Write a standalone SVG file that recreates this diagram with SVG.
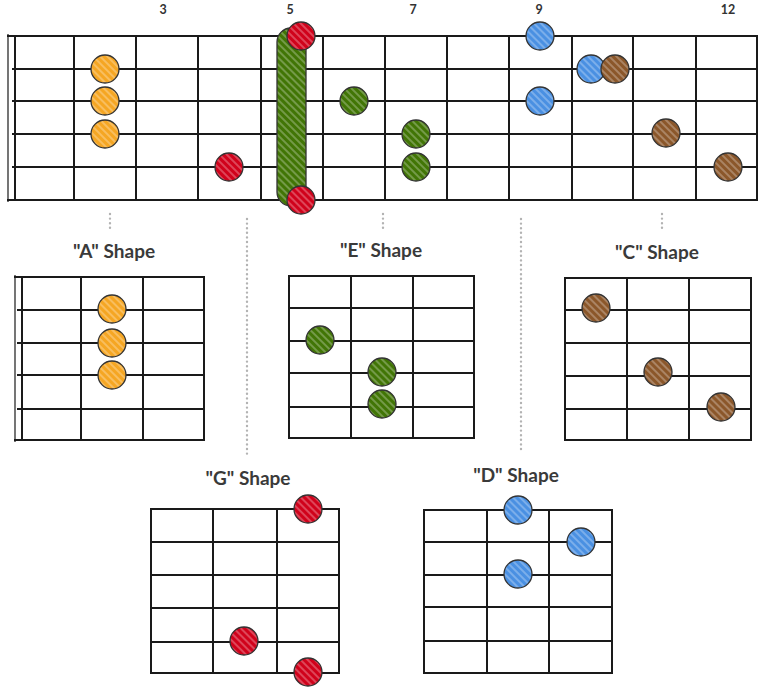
<svg xmlns="http://www.w3.org/2000/svg" width="768" height="695" viewBox="0 0 768 695">
<defs>
<pattern id="h-or" width="5" height="5" patternUnits="userSpaceOnUse" patternTransform="rotate(-45)"><rect width="5" height="5" fill="#F5A623"/><line x1="1" y1="0" x2="1" y2="5" stroke="#fff" stroke-width="0.9" opacity="0.6"/></pattern>
<pattern id="h-rd" width="5" height="5" patternUnits="userSpaceOnUse" patternTransform="rotate(-45)"><rect width="5" height="5" fill="#D0021B"/><line x1="1" y1="0" x2="1" y2="5" stroke="#fff" stroke-width="0.9" opacity="0.6"/></pattern>
<pattern id="h-gr" width="5" height="5" patternUnits="userSpaceOnUse" patternTransform="rotate(-45)"><rect width="5" height="5" fill="#417505"/><line x1="1" y1="0" x2="1" y2="5" stroke="#fff" stroke-width="0.9" opacity="0.6"/></pattern>
<pattern id="h-bl" width="5" height="5" patternUnits="userSpaceOnUse" patternTransform="rotate(-45)"><rect width="5" height="5" fill="#4A90E2"/><line x1="1" y1="0" x2="1" y2="5" stroke="#fff" stroke-width="0.9" opacity="0.6"/></pattern>
<pattern id="h-br" width="5" height="5" patternUnits="userSpaceOnUse" patternTransform="rotate(-45)"><rect width="5" height="5" fill="#8B572A"/><line x1="1" y1="0" x2="1" y2="5" stroke="#fff" stroke-width="0.9" opacity="0.6"/></pattern>
<style>
.grid{fill:none;stroke:#1a1a1a;stroke-width:2;stroke-linecap:square}
.thin{fill:none;stroke:#1a1a1a;stroke-width:1.2}
.dot{stroke:#333;stroke-width:1.3}
.or{fill:url(#h-or)}.rd{fill:url(#h-rd)}.gr{fill:url(#h-gr)}.bl{fill:url(#h-bl)}.br{fill:url(#h-br)}
.fn{font-family:Lato,"Liberation Sans",sans-serif;font-weight:700;font-size:12.5px;fill:#333;text-anchor:middle}
.ttl{font-family:Lato,"Liberation Sans",sans-serif;font-weight:700;font-size:19px;fill:#3a3a3a;text-anchor:middle}
.conn{fill:none;stroke:#b3b3b3;stroke-width:2.4;stroke-linecap:round;stroke-dasharray:0 4.6}
</style>
</defs>
<rect width="768" height="695" fill="#fff"/>

<g id="connectors">
<line class="conn" x1="110" y1="214" x2="110" y2="229"/>
<line class="conn" x1="383" y1="214" x2="383" y2="229"/>
<line class="conn" x1="662" y1="214" x2="662" y2="229"/>
<line class="conn" x1="247" y1="219" x2="247" y2="458"/>
<line class="conn" x1="521" y1="219" x2="521" y2="453"/>
</g>

<g id="fretboard">
<text class="fn" x="163" y="14">3</text>
<text class="fn" x="290" y="14">5</text>
<text class="fn" x="413" y="14">7</text>
<text class="fn" x="539" y="14">9</text>
<text class="fn" x="728" y="14">12</text>
<path class="thin" d="M8 34V202"/>
<path class="grid" d="M15 36V200M74 36V200M136 36V200M198 36V200M261 36V200M323 36V200M385 36V200M447 36V200M509 36V200M572 36V200M633 36V200M696 36V200M757 36V200M8 36H757M13 69H757M13 101H757M13 134H757M13 167H757M8 200H757"/>
<circle class="dot or" cx="105" cy="69" r="14"/>
<circle class="dot or" cx="105" cy="101" r="14"/>
<circle class="dot or" cx="105" cy="134" r="14"/>
<circle class="dot rd" cx="229" cy="167" r="14"/>
<rect class="dot gr" x="277" y="28" width="29" height="178" rx="14"/>
<circle class="dot rd" cx="301" cy="36" r="14"/>
<circle class="dot rd" cx="301" cy="200" r="14"/>
<circle class="dot gr" cx="354" cy="101" r="14"/>
<circle class="dot gr" cx="416" cy="134" r="14"/>
<circle class="dot gr" cx="416" cy="167" r="14"/>
<circle class="dot bl" cx="540" cy="36" r="14"/>
<circle class="dot bl" cx="591" cy="69" r="14"/>
<circle class="dot br" cx="615" cy="69" r="14"/>
<circle class="dot bl" cx="540" cy="101" r="14"/>
<circle class="dot br" cx="666" cy="133" r="14"/>
<circle class="dot br" cx="728" cy="167" r="14"/>
</g>

<g id="shape-A">
<text class="ttl" x="114" y="258">"A" Shape</text>
<path class="thin" d="M15 275V442"/>
<path class="grid" d="M22 277V440M81 277V440M143 277V440M204 277V440M15 277H204M18 310H204M18 343H204M18 375H204M18 409H204M15 440H204"/>
<circle class="dot or" cx="112" cy="309" r="14"/>
<circle class="dot or" cx="112" cy="343" r="14"/>
<circle class="dot or" cx="112" cy="375" r="14"/>
</g>

<g id="shape-E">
<text class="ttl" x="381" y="257">"E" Shape</text>
<path class="grid" d="M289 276V438M351 276V438M413 276V438M474 276V438M289 276H474M289 308H474M289 341H474M289 373H474M289 407H474M289 438H474"/>
<circle class="dot gr" cx="320" cy="340" r="14"/>
<circle class="dot gr" cx="382" cy="372" r="14"/>
<circle class="dot gr" cx="382" cy="404" r="14"/>
</g>

<g id="shape-C">
<text class="ttl" x="657" y="259">"C" Shape</text>
<path class="grid" d="M565 278V440M627 278V440M689 278V440M751 278V440M565 278H751M565 310H751M565 343H751M565 376H751M565 409H751M565 440H751"/>
<circle class="dot br" cx="596" cy="308" r="14"/>
<circle class="dot br" cx="658" cy="372" r="14"/>
<circle class="dot br" cx="721" cy="407" r="14"/>
</g>

<g id="shape-G">
<text class="ttl" x="248" y="485">"G" Shape</text>
<path class="grid" d="M151 509V673M213 509V673M277 509V673M339 509V673M151 509H339M151 542H339M151 575H339M151 608H339M151 642H339M151 673H339"/>
<circle class="dot rd" cx="308" cy="509" r="14"/>
<circle class="dot rd" cx="244" cy="641" r="14"/>
<circle class="dot rd" cx="308" cy="672" r="14"/>
</g>

<g id="shape-D">
<text class="ttl" x="516" y="482">"D" Shape</text>
<path class="grid" d="M424 510V673M487 510V673M549 510V673M612 510V673M424 510H612M424 542H612M424 575H612M424 607H612M424 641H612M424 673H612"/>
<circle class="dot bl" cx="518" cy="510" r="14"/>
<circle class="dot bl" cx="581" cy="542" r="14"/>
<circle class="dot bl" cx="518" cy="574" r="14"/>
</g>
</svg>
